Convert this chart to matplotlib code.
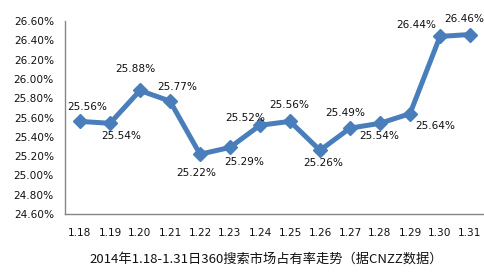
import matplotlib.pyplot as plt
import numpy as np

# 360 search market share, daily
days = ['1.18', '1.19', '1.20', '1.21', '1.22', '1.23', '1.24',
        '1.25', '1.26', '1.27', '1.28', '1.29', '1.30', '1.31']
share = [25.56, 25.54, 25.88, 25.77, 25.22, 25.29, 25.52,
         25.56, 25.26, 25.49, 25.54, 25.64, 26.44, 26.46]
yticks = [24.6, 24.8, 25.0, 25.2, 25.4, 25.6, 25.8, 26.0, 26.2, 26.4, 26.6]
title = '2014年1.18-1.31日360搜索市场占有率走势（据CNZZ数据）'

# label offsets in pixels (dx, dy), dy positive = up
offsets = [(7, 14), (11, -13), (-5, 21), (7, 14), (-4, -19), (14, -15), (-15, 7),
           (-1, 16), (3, -13), (-5, 15), (-1, -13), (25, -12), (-24, 11), (-6, 16)]

plt.rcParams['font.family'] = ['DejaVu Sans']

fig = plt.figure(figsize=(4.85, 2.78), dpi=100)
ax = fig.add_axes([0.134, 0.230, 0.866, 0.6945])

x = np.arange(len(days))
ax.plot(x, share, color='#4A7EBB', lw=3.6, marker='D', ms=7,
        solid_joinstyle='miter', zorder=3)

for i, v in enumerate(share):
    dx, dy = offsets[i]
    ax.annotate(f'{v:.2f}%', (x[i], v), xytext=(dx * 0.72, dy * 0.72),
                textcoords='offset points', ha='center', va='center',
                fontsize=7.6, color='#111111')

ax.set_xlim(-0.5, len(days) - 0.5)
ax.set_ylim(24.6, 26.6)
ax.set_xticks(x)
ax.set_xticklabels(days, fontsize=7.6)
ax.set_yticks(yticks)
ax.set_yticklabels([f'{t:.2f}%' for t in yticks], fontsize=7.6)
ax.tick_params(length=0, pad=8, colors='#111111')
ax.tick_params(axis='x', pad=10)

for s in ['top', 'right']:
    ax.spines[s].set_visible(False)
for s in ['left', 'bottom']:
    ax.spines[s].set_color('#868686')
    ax.spines[s].set_linewidth(1)

fig.text(266 / 485, 1 - 259 / 278, title, ha='center', va='center',
         fontsize=9.5, family=['Noto Sans CJK SC', 'DejaVu Sans'], color='#111111')

fig.savefig('out.png', dpi=100)
